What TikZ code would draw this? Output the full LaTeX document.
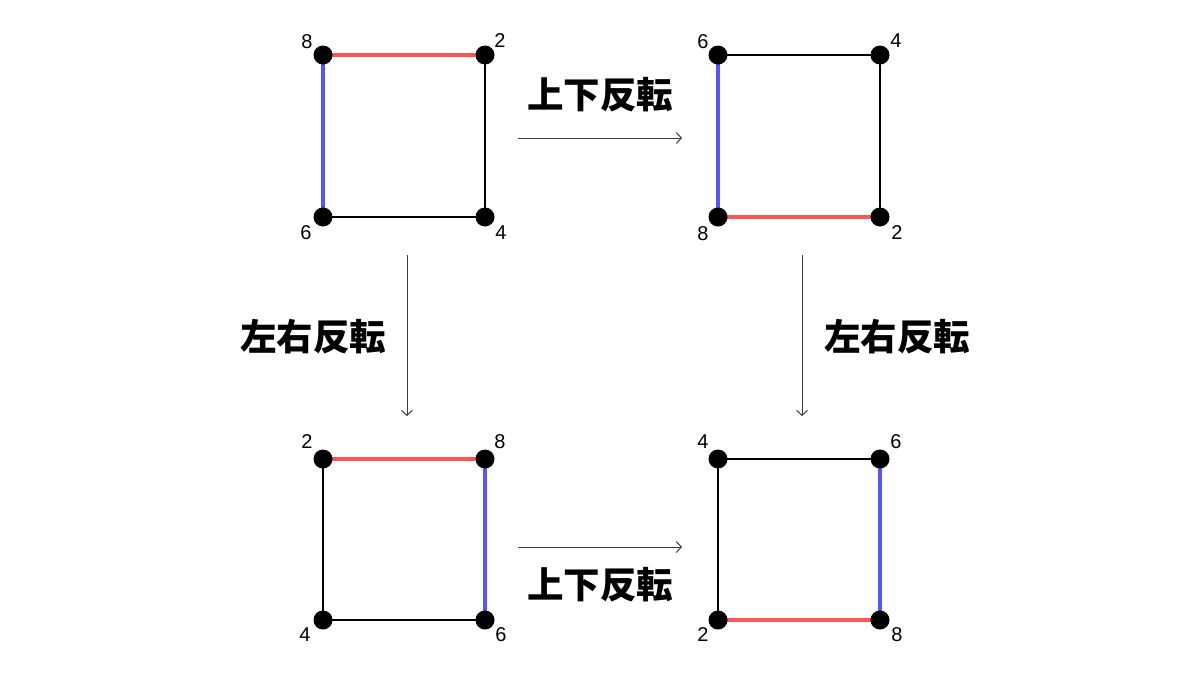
\documentclass[tikz,border=0pt]{standalone}
\usepackage{fontspec}
\usetikzlibrary{arrows.meta}
\setmainfont{Liberation Sans}
\newfontfamily\cjk{Noto Sans CJK JP}
\begin{document}
\begin{tikzpicture}[x=1pt,y=-1pt,
  dot/.style={circle,fill=black,inner sep=0pt,minimum size=19pt},
  num/.style={font=\fontsize{20}{20}\selectfont,inner sep=0pt},
  redline/.style={draw={rgb,255:red,255;green,85;blue,85},line width=4pt},
  blueline/.style={draw={rgb,255:red,85;green,85;blue,255},line width=4pt},
  blackline/.style={draw=black,line width=1.8pt},
  flow/.style={draw={rgb,255:red,60;green,60;blue,60},line width=1pt,-{Straight Barb[length=5pt,width=11pt]}},
  lbl/.style={font=\cjk\bfseries\fontsize{36.5}{36.5}\selectfont,inner sep=0pt}]
\useasboundingbox[fill=white] (0,0) rectangle (1200,675);
% top-left square
\coordinate (a1) at (323,55); \coordinate (a2) at (485,55);
\coordinate (a3) at (323,217); \coordinate (a4) at (485,217);
\draw[redline] (a1) -- (a2);
\draw[blueline] (a1) -- (a3);
\draw[blackline] (a2) -- (a4) -- (a3);
\foreach \p in {a1,a2,a3,a4} \node[dot] at (\p) {};
\node[num] (na1) at (307,42) {8};
\node[num] (na2) at (500,41) {2};
\node[num] (na3) at (306,233) {6};
\node[num] (na4) at (501,233) {4};
% top-right square
\coordinate (b1) at (718,55); \coordinate (b2) at (880,55);
\coordinate (b3) at (718,217); \coordinate (b4) at (880,217);
\draw[redline] (b3) -- (b4);
\draw[blueline] (b1) -- (b3);
\draw[blackline] (b1) -- (b2) -- (b4);
\foreach \p in {b1,b2,b3,b4} \node[dot] at (\p) {};
\node[num] (nb1) at (703,42) {6};
\node[num] (nb2) at (896,41) {4};
\node[num] (nb3) at (703,234) {8};
\node[num] (nb4) at (897,233) {2};
% bottom-left square
\coordinate (c1) at (323,459); \coordinate (c2) at (485,459);
\coordinate (c3) at (323,620); \coordinate (c4) at (485,620);
\draw[redline] (c1) -- (c2);
\draw[blueline] (c2) -- (c4);
\draw[blackline] (c1) -- (c3) -- (c4);
\foreach \p in {c1,c2,c3,c4} \node[dot] at (\p) {};
\node[num] (nc1) at (307,442) {2};
\node[num] (nc2) at (500,442) {8};
\node[num] (nc3) at (305,635) {4};
\node[num] (nc4) at (501,635) {6};
% bottom-right square
\coordinate (d1) at (718,459); \coordinate (d2) at (880,459);
\coordinate (d3) at (718,620); \coordinate (d4) at (880,620);
\draw[redline] (d3) -- (d4);
\draw[blueline] (d2) -- (d4);
\draw[blackline] (d3) -- (d1) -- (d2);
\foreach \p in {d1,d2,d3,d4} \node[dot] at (\p) {};
\node[num] (nd1) at (703,442) {4};
\node[num] (nd2) at (896,442) {6};
\node[num] (nd3) at (703,635) {2};
\node[num] (nd4) at (897,635) {8};
% arrows
\coordinate (h1s) at (518,138); \coordinate (h1e) at (682,138);
\coordinate (h2s) at (518,547); \coordinate (h2e) at (682,547);
\coordinate (v1s) at (407,255); \coordinate (v1e) at (407,416);
\coordinate (v2s) at (802,255); \coordinate (v2e) at (802,416);
\draw[flow] (h1s) -- (h1e);
\draw[flow] (h2s) -- (h2e);
\draw[flow] (v1s) -- (v1e);
\draw[flow] (v2s) -- (v2e);
% labels
\node[lbl] (t1) at (600,95) {上下反転};
\node[lbl] (t2) at (600,585) {上下反転};
\node[lbl] (t3) at (313,337) {左右反転};
\node[lbl] (t4) at (897,337) {左右反転};
\end{tikzpicture}
\end{document}
